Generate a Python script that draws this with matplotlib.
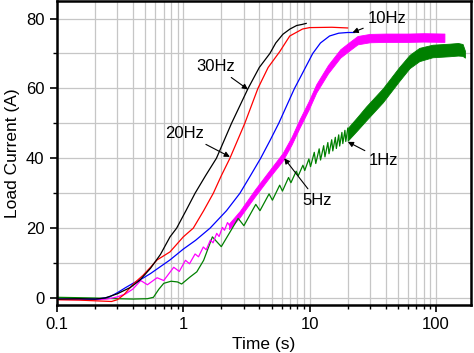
import numpy as np
import matplotlib
matplotlib.use("Agg")
import matplotlib.pyplot as plt
from matplotlib.ticker import LogLocator, FixedLocator, NullFormatter, MultipleLocator

plt.rcParams['font.family'] = ['Liberation Sans', 'DejaVu Sans']

# ---- data ----
t_30 = [0.1, 0.15, 0.2, 0.24, 0.3, 0.38, 0.45, 0.55, 0.66, 0.785, 0.886, 1.05, 1.24, 1.5, 1.83, 2.41, 3.26, 4.0, 4.85, 5.4, 6.15, 7.0, 7.9, 8.7, 9.4]
i_30 = [-0.3, -0.2, -0.3, 0.0, 1.2, 3.0, 5.0, 8.5, 12.5, 17.5, 20.0, 25.0, 30.0, 35.0, 40.0, 50.0, 60.0, 66.0, 70.0, 73.0, 75.5, 77.0, 78.0, 78.3, 78.6]

t_20 = [0.1, 0.15, 0.2, 0.27, 0.3, 0.34, 0.38, 0.41, 0.48, 0.55, 0.62, 0.785, 1.0, 1.2, 1.45, 1.73, 2.0, 2.34, 3.07, 3.9, 4.7, 5.8, 6.97, 8.8, 10.0, 15.0, 20.0]
i_20 = [-0.5, -0.6, -0.8, -1.0, -0.5, 1.0, 3.0, 4.3, 6.5, 8.8, 10.9, 13.2, 17.5, 20.0, 25.0, 30.0, 35.0, 40.0, 50.0, 60.0, 66.0, 70.5, 75.0, 77.0, 77.4, 77.5, 77.3]

t_10 = [0.1, 0.15, 0.2, 0.22, 0.26, 0.3, 0.35, 0.4, 0.47, 0.55, 0.66, 0.785, 1.0, 1.25, 1.63, 2.2, 2.81, 3.4, 4.1, 4.85, 5.7, 7.6, 8.35, 10.6, 12.2, 14.4, 17.0, 20.0, 22.8]
i_10 = [-0.3, -0.3, -0.3, -0.2, 0.3, 1.5, 3.0, 4.2, 5.5, 7.0, 9.0, 10.9, 14.0, 16.5, 20.0, 25.0, 30.0, 35.0, 40.0, 45.0, 50.0, 60.0, 62.8, 70.0, 73.0, 75.0, 75.8, 76.0, 76.0]

# 5 Hz: individual ripples at small t, then a dense ripple band
t_5 = [0.1, 0.2, 0.25, 0.3, 0.35, 0.40, 0.46, 0.52, 0.62, 0.70, 0.84, 0.93, 1.04, 1.12, 1.24, 1.32, 1.44, 1.52, 1.64, 1.72, 1.84, 1.92, 2.04, 2.12, 2.24, 2.32]
i_5 = [-0.4, -0.5, -0.3, 0.3, 1.2, 2.6, 5.0, 3.8, 5.8, 5.0, 8.8, 7.6, 10.8, 9.8, 12.6, 11.8, 14.6, 13.8, 16.6, 15.8, 18.5, 17.6, 20.2, 19.4, 21.6, 20.8]
t_5_band = [2.3, 2.8, 3.68, 4.8, 6.1, 7.2, 8.35, 9.8, 11.3, 14.0, 17.5, 20.6, 24.0, 30.0, 40.0, 60.0, 80.0, 117.0]
mid_5_band = [20.5, 24.0, 30.0, 35.5, 40.3, 45.0, 50.0, 55.0, 60.0, 65.5, 70.0, 72.0, 73.8, 74.4, 74.5, 74.5, 74.6, 74.5]
half_5_band = [0.8, 0.9, 1.0, 1.0, 1.1, 1.1, 1.2, 1.2, 1.2, 1.2, 1.2, 1.2, 1.2, 1.2, 1.2, 1.2, 1.2, 1.2]

# 1 Hz: individual ripples up to ~20 s, then a dense ripple band
t_1 = [0.1, 0.2, 0.3, 0.4, 0.52, 0.58, 0.64, 0.70, 0.8, 0.9, 0.97, 1.13, 1.28, 1.45, 1.7, 2.0,
       2.72, 3.02, 3.75, 4.05, 4.78, 5.08, 5.8, 6.1, 6.82, 7.12, 7.84, 8.14, 8.86, 9.16,
       9.88, 10.18, 10.9, 11.2, 11.92, 12.22, 12.94, 13.24, 13.96, 14.26, 14.98, 15.28,
       16.0, 16.3, 17.02, 17.32, 18.04, 18.34, 19.06, 19.36, 20.08]
i_1 = [0.2, 0.0, -0.2, -0.3, -0.2, 0.2, 2.5, 4.2, 4.8, 4.6, 4.0, 6.0, 7.5, 10.8, 17.5, 14.7,
       22.8, 20.7, 26.8, 25.0, 29.8, 28.0, 32.3, 30.6, 34.5, 33.0, 36.3, 35.0, 38.0, 36.5,
       39.8, 37.6, 41.7, 38.5, 42.7, 39.5, 43.6, 40.4, 44.5, 41.3, 45.3, 42.1,
       46.0, 42.8, 46.7, 43.5, 47.4, 44.2, 48.0, 44.8, 48.6]
t_1_band = [20.0, 24.0, 28.0, 38.0, 51.0, 62.0, 74.0, 94.0, 128.0, 150.0, 163.0, 170.0]
mid_1_band = [46.8, 50.0, 52.8, 58.0, 64.0, 67.7, 69.7, 70.7, 71.0, 71.2, 71.0, 69.8]
half_1_band = [1.8, 1.9, 2.0, 2.0, 2.0, 1.9, 1.9, 1.8, 1.8, 1.8, 1.7, 1.0]

labels = ["30Hz", "20Hz", "10Hz", "5Hz", "1Hz"]
label_tips = [(3.25, 59.7), (2.34, 40.4), (21.9, 76.0), (6.3, 40.0), (20.1, 44.7)]
label_pos = [(1.81, 66.3), (1.03, 47.1), (40.8, 79.9), (11.4, 28.0), (38.6, 39.4)]

x_ticks = [0.1, 1, 10, 100]
x_ticklabels = ["0.1", "1", "10", "100"]
y_ticks = [0, 20, 40, 60, 80]

# ---- figure ----
fig = plt.figure(figsize=(4.74, 3.53), dpi=100)
ax = fig.add_axes([0.1203, 0.136, 0.8734, 0.861])
ax.set_xscale('log')
ax.set_xlim(0.1, 190)
ax.set_ylim(-2, 85)

grid_c = '#c6c6c6'
ax.grid(True, which='major', axis='both', color=grid_c, lw=0.9)
ax.grid(True, which='minor', axis='x', color=grid_c, lw=0.9)
ax.yaxis.set_minor_locator(MultipleLocator(10))
ax.grid(True, which='minor', axis='y', color=grid_c, lw=0.9)
ax.set_axisbelow(True)

green = '#008000'
pink = '#ff00ff'
# green
ax.plot(t_1, i_1, color=green, lw=0.9)
lo1 = np.array(mid_1_band) - np.array(half_1_band)
hi1 = np.array(mid_1_band) + np.array(half_1_band)
ax.fill_between(t_1_band, lo1, hi1, color=green, lw=0.6, edgecolor=green)
# pink
ax.plot(t_5, i_5, color=pink, lw=0.9)
lo5 = np.array(mid_5_band) - np.array(half_5_band)
hi5 = np.array(mid_5_band) + np.array(half_5_band)
ax.fill_between(t_5_band, lo5, hi5, color=pink, lw=0.6, edgecolor=pink)
# others
ax.plot(t_10, i_10, color='#0000ff', lw=0.9)
ax.plot(t_20, i_20, color='#ff0000', lw=0.9)
ax.plot(t_30, i_30, color='black', lw=0.9)

for lab, tip, pos in zip(labels, label_tips, label_pos):
    ax.annotate(lab, xy=tip, xytext=pos, fontsize=12, ha='center', va='center',
                arrowprops=dict(arrowstyle='-|>', color='black', lw=0.8,
                                mutation_scale=8, shrinkA=1, shrinkB=0))

ax.xaxis.set_major_locator(FixedLocator(x_ticks))
ax.set_xticklabels(x_ticklabels)
ax.xaxis.set_minor_locator(LogLocator(base=10, subs=np.arange(2, 10)))
ax.xaxis.set_minor_formatter(NullFormatter())
ax.set_yticks(y_ticks)

ax.tick_params(which='major', direction='out', length=5, width=1.2, labelsize=12, pad=4)
ax.tick_params(which='minor', direction='out', length=3, width=1.0)
for s in ax.spines.values():
    s.set_linewidth(1.8)

ax.set_xlabel('Time (s)', fontsize=12.5, labelpad=3)
ax.set_ylabel('Load Current (A)', fontsize=12.5, labelpad=4)

fig.savefig('out.png', dpi=100)
